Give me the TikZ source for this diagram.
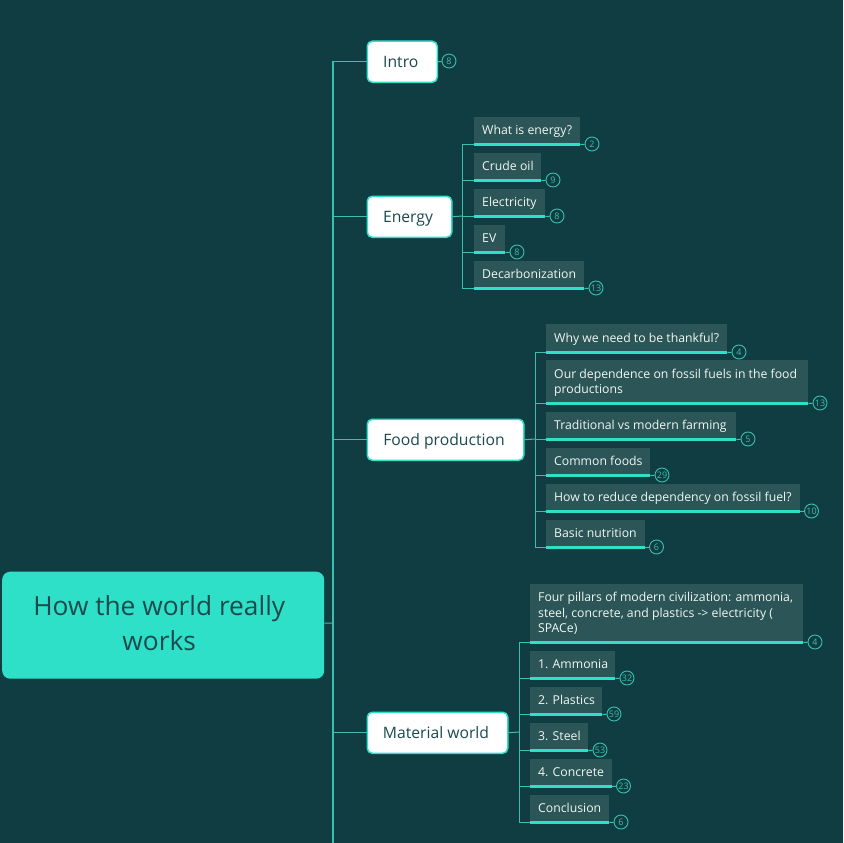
\documentclass[tikz,border=0pt]{standalone}
\usepackage{fontspec}
\setmainfont{Open Sans}
\definecolor{bgc}{HTML}{0F3D41}
\definecolor{leafc}{HTML}{2C5557}
\definecolor{mint}{HTML}{2FE0C8}
\definecolor{wire}{HTML}{3CBFAE}
\definecolor{ink}{HTML}{1B4A4E}
\definecolor{pale}{HTML}{EFF7F4}
\tikzset{
  x=1pt,y=-1pt,
  rootbox/.style={fill=mint,draw=none,rounded corners=8pt,anchor=north west,inner sep=0pt},
  rootlabel/.style={inner sep=0pt,align=center,text=ink,font=\fontsize{26.3}{35}\selectfont},
  topic/.style={fill=white,draw=mint,line width=1.5pt,rounded corners=5pt,anchor=north west,inner sep=0pt,minimum height=41pt,text=ink,text height=13pt,text depth=2.5pt,execute at begin node=\kern-3pt,font=\fontsize{15.7}{20}\selectfont},
  leafbox/.style={fill=leafc,draw=none,anchor=north west,inner sep=0pt},
  leaflabel/.style={anchor=west,inner sep=0pt,align=left,text=pale,font=\fontsize{12.25}{15.3}\selectfont},
  badge/.style={circle,draw=wire,line width=.9pt,inner sep=0pt,minimum size=14pt,text=wire,font=\fontsize{9}{9}\selectfont},
  wireline/.style={draw=wire,line width=1pt},
  spineline/.style={draw=wire,line width=1.4pt},
  underline/.style={draw=mint,line width=2.8pt}
}
% id, spine, left, top, right, bottom, text, badge
\newcommand{\leafitem}[8]{%
  \pgfmathsetmacro{\lw}{#5-#3}%
  \pgfmathsetmacro{\lh}{#6-#4}%
  \node[leafbox,minimum width=\lw pt,minimum height=\lh pt] (#1) at (#3,#4) {};
  \node[leaflabel] (#1t) at ([xshift=8pt,yshift=-1pt]#1.west) {\strut #7\strut};
  \node[badge] (#1b) at (#5+12,#6) {#8};
  \draw[wireline] (#1.south east) -- (#1b);
  \draw[wireline] (#2) |- (#1.south west);
  \draw[underline] (#1.south west) -- (#1.south east);
}
\begin{document}
\begin{tikzpicture}
\useasboundingbox (0,0) rectangle (843,843);
\fill[bgc] (0,0) rectangle (843,843);

% spine
\coordinate (spine) at (333,623);
\coordinate (rootend) at (333,843);
\coordinate (enS) at (462.5,216);
\coordinate (foS) at (535,439);
\coordinate (maS) at (519,732);

\node[rootbox,minimum width=322pt,minimum height=107pt] (root) at (2,571.5) {};
\node[rootlabel] (roott) at ([xshift=-4pt,yshift=2pt]root.center) {How the world really\\works};
\node[topic,minimum width=70pt] (intro) at (366.5,40.5) {Intro};
\node[topic,minimum width=84.5pt] (energy) at (366.5,195.5) {Energy};
\node[topic,minimum width=156.5pt] (food) at (366.5,418.5) {Food production};
\node[topic,minimum width=140.5pt] (material) at (366.5,711.5) {Material world};
\node[badge] (introb) at (449,61) {8};

\draw[wireline] ([yshift=2pt]root.east) -- (spine);
\draw[spineline] (spine) -- (rootend);
\draw[spineline] (spine) |- (intro.west);
\draw[wireline] (spine) |- (energy.west);
\draw[wireline] (spine) |- (food.west);
\draw[wireline] (spine) |- (material.west);
\draw[wireline] (intro.east) -- (introb);
\draw[wireline] (energy.east) -- (enS);
\draw[wireline] (food.east) -- (foS);
\draw[wireline] (material.east) -- (maS);

\leafitem{e1}{enS}{474}{117}{580}{144}{What is energy?}{2}
\leafitem{e2}{enS}{474}{153}{541}{180}{Crude oil}{9}
\leafitem{e3}{enS}{474}{189}{545}{216}{Electricity}{8}
\leafitem{e4}{enS}{474}{225}{505}{252}{EV}{8}
\leafitem{e5}{enS}{474}{261}{584}{288}{Decarbonization}{13}

\leafitem{f1}{foS}{546}{324}{727}{352}{Why we need to be thankful?}{4}
\leafitem{f2}{foS}{546}{360}{808}{403}{Our dependence on fossil fuels in the food\\productions}{13}
\leafitem{f3}{foS}{546}{412}{736}{439}{Traditional vs modern farming}{5}
\leafitem{f4}{foS}{546}{448}{650}{475}{Common foods}{29}
\leafitem{f5}{foS}{546}{484}{799.5}{511}{How to reduce dependency on fossil fuel?}{10}
\leafitem{f6}{foS}{546}{520}{644.5}{547}{Basic nutrition}{6}

\leafitem{m1}{maS}{530}{583.5}{803}{642}{Four pillars of modern civilization: ammonia,\\steel, concrete, and plastics -> electricity (\\SPACe)}{4}
\leafitem{m2}{maS}{530}{651}{615}{678}{1. Ammonia}{32}
\leafitem{m3}{maS}{530}{687}{602}{714}{2. Plastics}{59}
\leafitem{m4}{maS}{530}{723}{588}{750}{3. Steel}{53}
\leafitem{m5}{maS}{530}{759}{611.5}{786}{4. Concrete}{23}
\leafitem{m6}{maS}{530}{795}{609}{822}{Conclusion}{6}
\end{tikzpicture}
\end{document}
